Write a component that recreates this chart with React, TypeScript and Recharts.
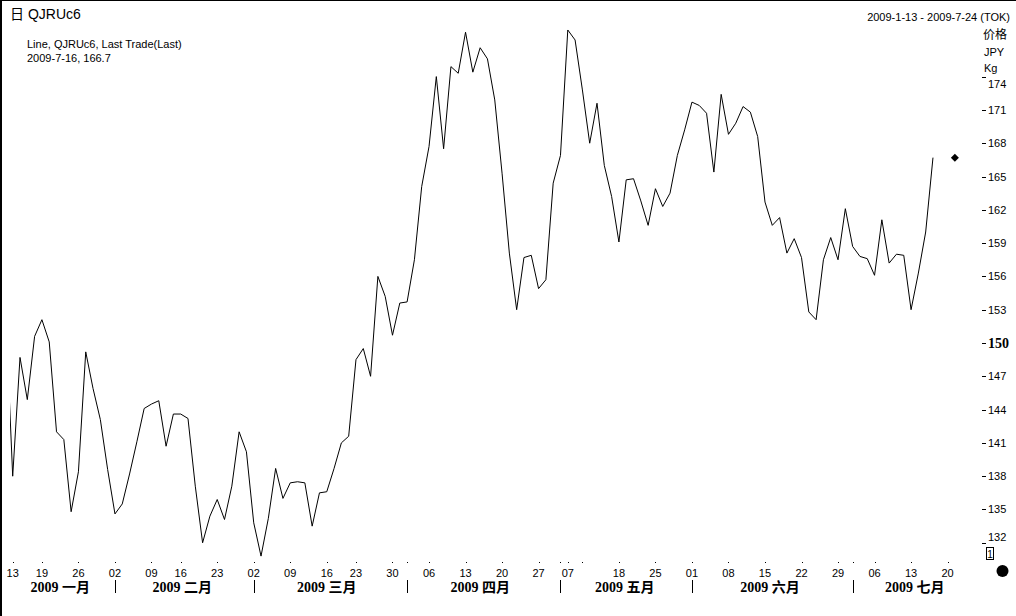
import { Line, LineChart, ReferenceDot, XAxis, YAxis } from "recharts";

// QJRUc6 daily last trade, 2009-01-13 .. 2009-07-16 (TOK trading days)
const prevClose = 153.3; // 2009-01-09, sits just left of the visible range
const prices = [
  138.0, 148.7, 144.9, 150.6, 152.1, 150.1, 142.0, 141.3, 134.8, 138.4,
  149.2, 145.9, 143.1, 138.6, 134.6, 135.5, 138.2, 141.1, 144.1, 144.5,
  144.8, 140.7, 143.6, 143.6, 143.2, 137.1, 132.0, 134.4, 135.9, 134.1,
  137.1, 142.0, 140.2, 133.8, 130.8, 134.2, 138.7, 136.0, 137.4, 137.5,
  137.4, 133.5, 136.5, 136.6, 138.7, 141.0, 141.6, 148.5, 149.5, 147.0,
  156.0, 154.2, 150.7, 153.6, 153.7, 157.5, 164.1, 167.7, 174.0, 167.5,
  174.9, 174.3, 178.0, 174.4, 176.6, 175.6, 171.9, 165.3, 158.1, 153.0,
  157.7, 157.9, 154.9, 155.7, 164.4, 166.9, 178.2, 177.3, 172.8, 168.0,
  171.6, 166.0, 163.2, 159.1, 164.7, 164.8, 162.8, 160.6, 163.9, 162.3,
  163.5, 166.9, 169.2, 171.7, 171.4, 170.7, 165.4, 172.4, 168.8, 169.8,
  171.3, 170.8, 168.6, 162.7, 160.6, 161.3, 158.1, 159.4, 157.7, 152.8,
  152.1, 157.5, 159.5, 157.5, 162.1, 158.7, 157.8, 157.6, 156.1, 161.1,
  157.2, 158.0, 157.9, 153.0, 156.3, 160.0, 166.7,
];

const weekTickIdx = [0, 4, 9, 14, 19, 23, 28, 33, 38, 43, 47, 52, 54, 57, 62, 67, 72, 75, 76, 78, 83, 88, 93, 98, 103, 108, 113, 115, 118, 123, 128];
const weekTickLabels = ["13", "19", "26", "02", "09", "16", "23", "02", "09", "16", "23", "30", "", "06", "13", "20", "27", "", "07", "", "18", "25", "01", "08", "15", "22", "29", "", "06", "13", "20"];

const monthLabels = ["2009 一月", "2009 二月", "2009 三月", "2009 四月", "2009 五月", "2009 六月", "2009 七月"];
const monthCenters = [6.5, 23.2, 43, 64, 83.8, 103.7, 123.5];
const monthStarts = [14, 33, 54, 75, 93, 115];

const priceTicks = [132, 135, 138, 141, 144, 147, 150, 153, 156, 159, 162, 165, 168, 171, 174];

const data = [
  { i: -1, v: prevClose },
  ...prices.map((v, i) => ({ i, v })),
];
const lastValue = prices[prices.length - 1];

const X_DOMAIN: [number, number] = [-0.37, 129.7];
const Y_DOMAIN: [number, number] = [130.45, 179.1];

const allXTicks = Array.from(new Set([...weekTickIdx, ...monthCenters, ...monthStarts])).sort((a, b) => a - b);

const sans = "'Liberation Sans', Arial, 'Noto Sans CJK SC', sans-serif";
const serifBold = "'Liberation Serif', 'Noto Sans CJK SC', serif";

function XTick(props: any) {
  const { x, payload } = props;
  const value = payload?.value;
  const w = weekTickIdx.indexOf(value);
  const m = monthCenters.indexOf(value);
  const s = monthStarts.indexOf(value);
  return (
    <g>
      {w >= 0 && <rect x={Math.round(x)} y={562} width={1} height={1} fill="#000" />}
      {w >= 0 && weekTickLabels[w] && (
        <text x={x} y={577} textAnchor="middle" fontSize={11} fontFamily={sans} fill="#000">
          {weekTickLabels[w]}
        </text>
      )}
      {s >= 0 && <line x1={Math.round(x) + 0.5} x2={Math.round(x) + 0.5} y1={580} y2={593} stroke="#000" strokeWidth={1} />}
      {m >= 0 && (
        <text x={x} y={592} textAnchor="middle" fontSize={14} fontWeight="bold" fontFamily={serifBold} fill="#000">
          {monthLabels[m]}
        </text>
      )}
    </g>
  );
}

function YTick(props: any) {
  const { y, payload } = props;
  const value = payload?.value;
  const ty = Math.round(y) + 0.5;
  let textY = y + 4;
  if (value === 174) textY = y + 11;
  if (value === 132) textY = y - 2;
  const bold = value === 150;
  return (
    <g>
      <line x1={982} x2={986} y1={ty} y2={ty} stroke="#000" strokeWidth={1} />
      <text
        x={988}
        y={bold ? y + 5 : textY}
        fontSize={bold ? 14 : 11}
        fontWeight={bold ? "bold" : "normal"}
        fontFamily={bold ? serifBold : sans}
        fill="#000"
      >
        {value}
      </text>
    </g>
  );
}

function Diamond(props: any) {
  const { cx, cy } = props;
  return <polygon points={`${cx},${cy - 4} ${cx + 4},${cy} ${cx},${cy + 4} ${cx - 4},${cy}`} fill="#000" />;
}

export default function App() {
  return (
    <div style={{ position: "relative", width: 1016, height: 616, background: "#fff" }}>
      <style>{"body{margin:0}"}</style>
      <LineChart width={1016} height={616} data={data} margin={{ top: 20, right: 0, bottom: 0, left: 10 }}>
        <XAxis
          type="number"
          dataKey="i"
          domain={X_DOMAIN}
          allowDataOverflow
          ticks={allXTicks}
          interval={0}
          tick={(p: any) => <XTick {...p} />}
          tickLine={false}
          axisLine={false}
          height={56}
        />
        <YAxis
          orientation="right"
          type="number"
          domain={Y_DOMAIN}
          allowDataOverflow
          ticks={priceTicks}
          interval={0}
          tick={(p: any) => <YTick {...p} />}
          tickLine={false}
          axisLine={false}
          width={56}
        />
        <Line
          type="linear"
          dataKey="v"
          stroke="#000"
          strokeWidth={1}
          dot={false}
          activeDot={false}
          isAnimationActive={false}
        />
        <ReferenceDot x={129} y={lastValue} shape={(p: any) => <Diamond {...p} />} />
      </LineChart>
      <svg width={1016} height={616} style={{ position: "absolute", left: 0, top: 0, pointerEvents: "none" }}>
        <line x1={0} x2={1016} y1={0.5} y2={0.5} stroke="#000" strokeWidth={1} />
        <line x1={1} x2={1} y1={0} y2={616} stroke="#000" strokeWidth={2} />
        <text x={10} y={19} fontSize={14} fontFamily={sans} fill="#000">日 QJRUc6</text>
        <text x={27} y={48} fontSize={11} fontFamily={sans} fill="#000">Line, QJRUc6, Last Trade(Last)</text>
        <text x={27} y={62} fontSize={11} fontFamily={sans} fill="#000">2009-7-16, 166.7</text>
        <text x={1010} y={21} fontSize={11} fontFamily={sans} fill="#000" textAnchor="end">2009-1-13 - 2009-7-24 (TOK)</text>
        <text x={983} y={39} fontSize={12} fontFamily={sans} fill="#000">价格</text>
        <text x={984} y={56} fontSize={11} fontFamily={sans} fill="#000">JPY</text>
        <text x={984} y={72} fontSize={11} fontFamily={sans} fill="#000">Kg</text>
        <rect x={986.5} y={547.5} width={7} height={12} fill="none" stroke="#000" strokeWidth={1} />
        <text x={990} y={558} fontSize={10} fontFamily={sans} fill="#000" textAnchor="middle">1</text>
        <circle cx={1002.5} cy={571} r={6} fill="#000" />
      </svg>
    </div>
  );
}
